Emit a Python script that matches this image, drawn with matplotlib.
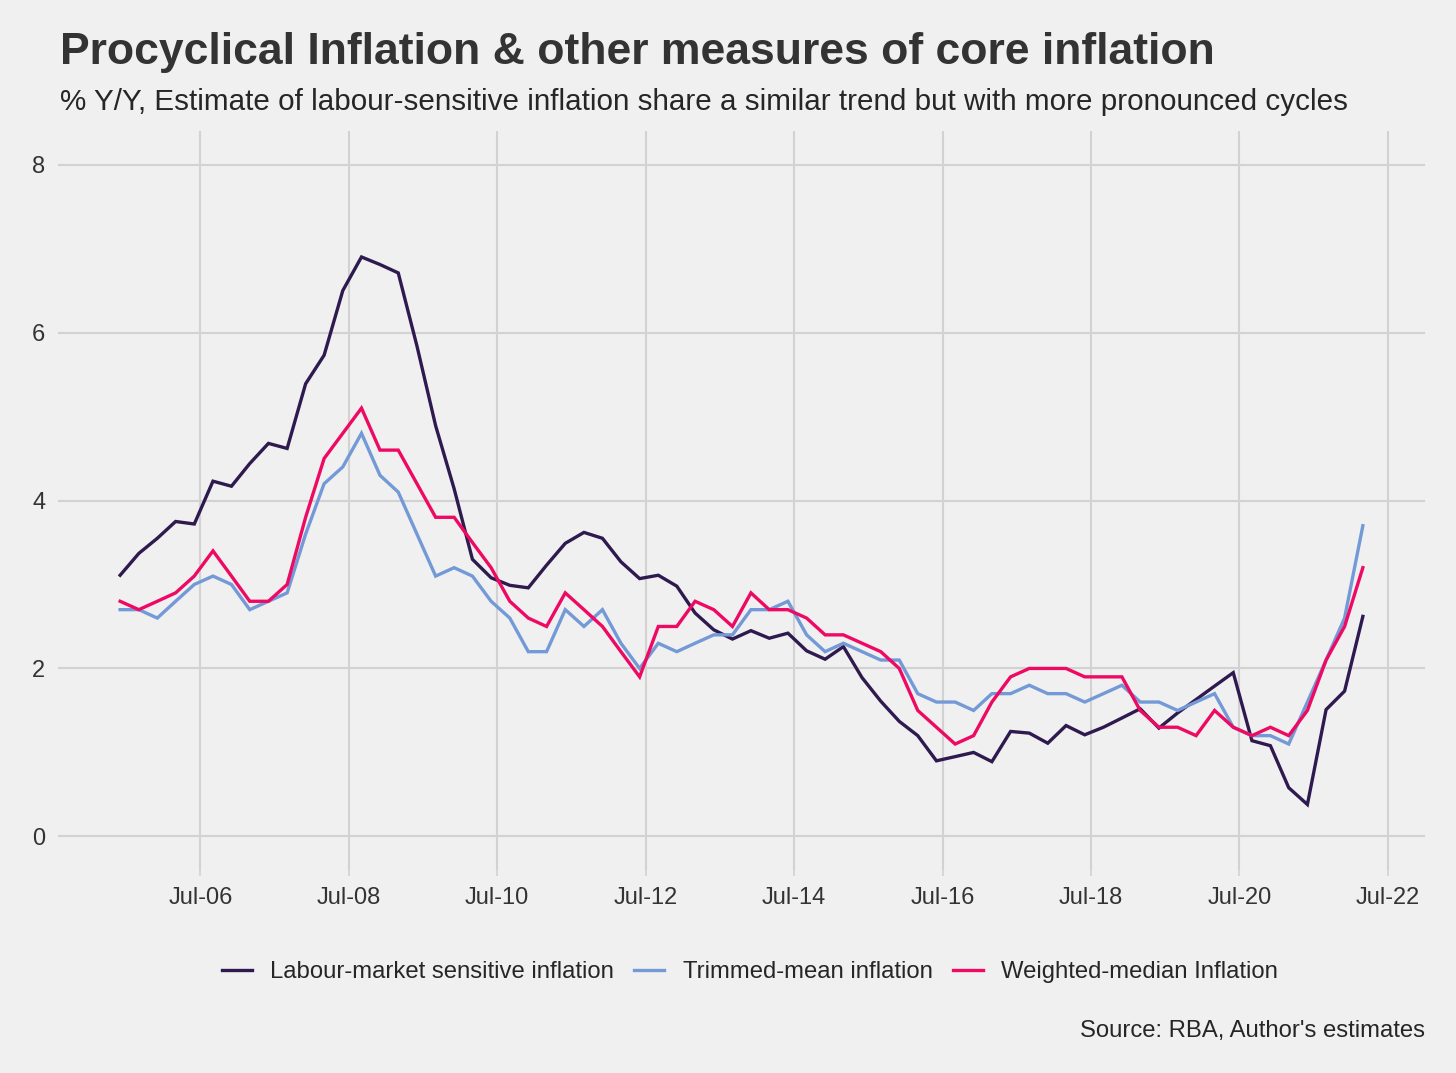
import matplotlib
matplotlib.use("Agg")
import matplotlib.pyplot as plt
import matplotlib.dates as mdates
import pandas as pd
import numpy as np

plt.rcParams['font.family'] = ['Liberation Sans', 'DejaVu Sans']

dates = pd.date_range('2005-06-01', '2022-03-01', freq='3MS')

labour = [3.11, 3.37, 3.55, 3.75, 3.72, 4.23, 4.17, 4.44, 4.68, 4.62, 5.39, 5.73, 6.50, 6.90, 6.81, 6.71, 5.84, 4.89, 4.14, 3.30, 3.08,
          2.99, 2.96, 3.23, 3.49, 3.62, 3.55, 3.27, 3.07, 3.11, 2.98, 2.66, 2.46, 2.35, 2.45, 2.36, 2.42, 2.21, 2.11, 2.26,
          1.89, 1.61, 1.37, 1.20, 0.90, 0.95, 1.00, 0.89, 1.25, 1.23, 1.11, 1.32, 1.21, 1.30, 1.41, 1.52,
          1.29, 1.47, 1.63, 1.79, 1.95, 1.14, 1.08, 0.58, 0.38, 1.51, 1.73, 2.62]
trimmed = [2.7, 2.7, 2.6, 2.8, 3.0, 3.1, 3.0, 2.7, 2.8, 2.9, 3.6, 4.2, 4.4, 4.8, 4.3, 4.1, 3.6, 3.1, 3.2, 3.1, 2.8,
           2.6, 2.2, 2.2, 2.7, 2.5, 2.7, 2.3, 2.0, 2.3, 2.2, 2.3, 2.4, 2.4, 2.7, 2.7, 2.8, 2.4, 2.2, 2.3,
           2.2, 2.1, 2.1, 1.7, 1.6, 1.6, 1.5, 1.7, 1.7, 1.8, 1.7, 1.7, 1.6, 1.7, 1.8, 1.6,
           1.6, 1.5, 1.6, 1.7, 1.3, 1.2, 1.2, 1.1, 1.6, 2.1, 2.6, 3.7]
weighted = [2.8, 2.7, 2.8, 2.9, 3.1, 3.4, 3.1, 2.8, 2.8, 3.0, 3.8, 4.5, 4.8, 5.1, 4.6, 4.6, 4.2, 3.8, 3.8, 3.5, 3.2,
            2.8, 2.6, 2.5, 2.9, 2.7, 2.5, 2.2, 1.9, 2.5, 2.5, 2.8, 2.7, 2.5, 2.9, 2.7, 2.7, 2.6, 2.4, 2.4,
            2.3, 2.2, 2.0, 1.5, 1.3, 1.1, 1.2, 1.6, 1.9, 2.0, 2.0, 2.0, 1.9, 1.9, 1.9, 1.5,
            1.3, 1.3, 1.2, 1.5, 1.3, 1.2, 1.3, 1.2, 1.5, 2.1, 2.5, 3.2]

series_names = ['Labour-market sensitive inflation', 'Trimmed-mean inflation', 'Weighted-median Inflation']
series_colors = ['#2E1A4F', '#7399D6', '#EE0A63']
x_ticks = pd.date_range('2006-07-01', '2022-07-01', freq='24MS')
y_ticks = [0, 2, 4, 6, 8]

title = 'Procyclical Inflation & other measures of core inflation'
subtitle = '% Y/Y, Estimate of labour-sensitive inflation share a similar trend but with more pronounced cycles'
source = "Source: RBA, Author's estimates"

W, H = 1456, 1073
bg = '#F0F0F0'
grid_c = '#D2D2D2'
text_c = '#333333'

fig = plt.figure(figsize=(W / 100, H / 100), dpi=100, facecolor=bg)
ax = fig.add_axes([58 / W, (H - 870) / H, (1425 - 58) / W, (870 - 131) / H])
ax.set_facecolor(bg)

for vals, name, col in zip([labour, trimmed, weighted], series_names, series_colors):
    ax.plot(dates, vals, color=col, lw=2.4, label=name, solid_joinstyle='miter')

# ggplot-like 5% expansion
x0 = mdates.date2num(dates[0]); x1 = mdates.date2num(dates[-1])
pad = (x1 - x0) * 0.05
ax.set_xlim(x0 - pad, x1 + pad)
ax.set_ylim(-0.4, 8.4)

ax.set_xticks(x_ticks)
ax.xaxis.set_major_formatter(mdates.DateFormatter('%b-%y'))
ax.set_yticks(y_ticks)
ax.grid(True, color=grid_c, lw=1.5)
ax.set_axisbelow(True)
for s in ax.spines.values():
    s.set_visible(False)
ax.tick_params(axis='x', colors=grid_c, length=4, width=1.2, labelcolor=text_c, labelsize=17, pad=8)
ax.tick_params(axis='y', length=0, labelcolor=text_c, labelsize=17, pad=9)

fig.text(60 / W, 1 - 64 / H, title, fontsize=32, fontweight='bold', color=text_c, va='baseline', ha='left')
fig.text(60 / W, 1 - 110 / H, subtitle, fontsize=21.3, color='#262626', va='baseline', ha='left')
fig.text(1425 / W, 1 - 1037 / H, source, fontsize=17.2, color='#262626', va='baseline', ha='right')

fig.legend(loc='center', bbox_to_anchor=(750 / W, 1 - 972 / H), ncol=3, frameon=False,
           fontsize=17.2, handlelength=1.25, columnspacing=0.85, handletextpad=0.78, labelcolor='#262626')

fig.savefig('out.png', dpi=100, facecolor=bg)
